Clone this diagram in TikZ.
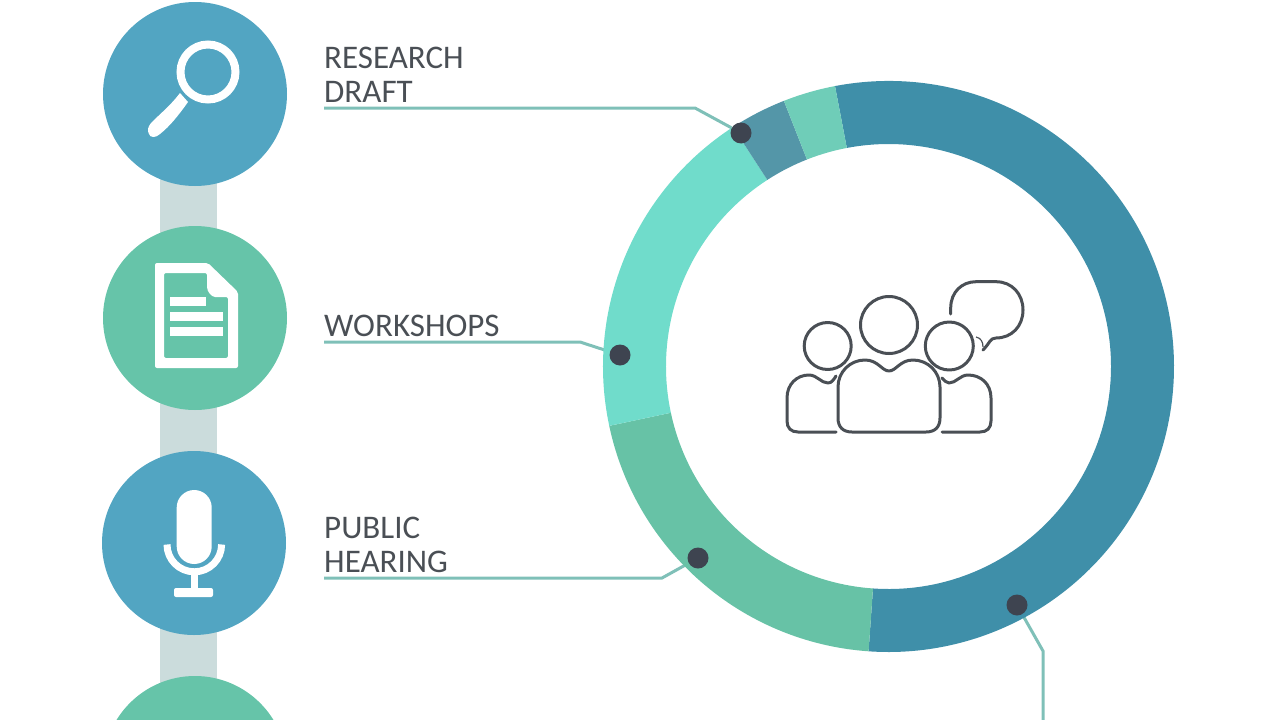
\documentclass[tikz,border=0pt]{standalone}
\usepackage{fontspec}
\setmainfont{Carlito}
\usetikzlibrary{calc,backgrounds}

\definecolor{discblue}{HTML}{52A5C2}
\definecolor{discgreen}{HTML}{66C4A9}
\definecolor{spinegray}{HTML}{CBDCDC}
\definecolor{leadline}{HTML}{7FC0B8}
\definecolor{inkgray}{HTML}{4A4F55}
\definecolor{dotgray}{HTML}{3E4450}
\definecolor{ringdark}{HTML}{3F8FA9}
\definecolor{ringmid}{HTML}{5496A8}
\definecolor{ringpale}{HTML}{6FCDB8}
\definecolor{ringaqua}{HTML}{70DCCB}
\definecolor{ringgreen}{HTML}{67C2A6}

\tikzset{
  stage/.style={circle, minimum size=184pt, inner sep=0pt},
  spine/.style={spinegray, line width=57pt},
  leader/.style={leadline, line width=3pt},
  stagelabel/.style={anchor=south west, align=left, inner xsep=0pt, inner ysep=5pt,
    text=inkgray, font=\fontsize{33}{34.3}\selectfont},
  ringdot/.style={circle, fill=dotgray, minimum size=21pt, inner sep=0pt},
  icon/.style={white, line width=8pt},
  people/.style={inkgray, line width=3pt, line cap=round, line join=round}
}

\begin{document}
\begin{tikzpicture}[x=1pt, y=-1pt]
    \clip (0,0) rectangle (1280,720);

    % The four stages down the left side
    \node[stage, fill=discblue] (disc1) at (195,94) {};
    \node[stage, fill=discgreen] (disc2) at (195,318) {};
    \node[stage, fill=discblue] (disc3) at (194,543) {};
    \node[stage, fill=discgreen] (disc4) at (195,768) {};

    % The labels
    \node[stagelabel] (lbl1) at (324,108) {RESEARCH\\DRAFT};
    \node[stagelabel] (lbl2) at (324,342) {WORKSHOPS};
    \node[stagelabel] (lbl3) at (324,578) {PUBLIC\\HEARING};

    % The ring, clockwise from the top
    \coordinate (ringc) at (888.5,366.5);
    \foreach \a/\b/\c in {100.8/-94/ringdark, -94/-168/ringgreen, -168/-237/ringaqua,
                          123/111.5/ringmid, 111.5/100.8/ringpale} {
      \fill[\c] ($(ringc)+(\a:285.5pt)$) arc[start angle=\a, end angle=\b, radius=285.5pt]
        -- ($(ringc)+(\b:222.5pt)$) arc[start angle=\b, end angle=\a, radius=222.5pt] -- cycle;
    }

    % The dots on the ring
    \node[ringdot] (dot1) at (741,133) {};
    \node[ringdot] (dot2) at (620,355) {};
    \node[ringdot] (dot3) at (698,558) {};
    \node[ringdot] (dot4) at (1017,605) {};

    % Bends and free end of the leader lines
    \coordinate (bend1) at (695,108);
    \coordinate (bend2) at (580,342);
    \coordinate (bend3) at (662,578);
    \coordinate (bend4) at (1043,651);
    \coordinate (end4) at (1043,720);

    % Everything that passes behind discs and ring
    \begin{scope}[on background layer]
      \draw[spine] ([xshift=-6.5pt]disc1.center) -- ([xshift=-6.5pt]disc2.center);
      \draw[spine] ([xshift=-6.5pt]disc2.center) -- ([xshift=-5.5pt]disc3.center);
      \draw[spine] ([xshift=-5.5pt]disc3.center) -- ([xshift=-6.5pt]disc4.center);
      \draw[leader] (lbl1.south west) -- (bend1) -- (dot1);
      \draw[leader] (lbl2.south west) -- (bend2) -- (dot2);
      \draw[leader] (lbl3.south west) -- (bend3) -- (dot3);
      \draw[leader] (dot4) -- (bend4) -- (end4);
    \end{scope}

    % Magnifier
    \draw[icon] (208,72) circle[radius=27.5pt];
    \fill[white] (180,93) -- (188,102) .. controls (178,116) and (170,126) .. (160,134)
      .. controls (156,138) and (150,138) .. (149,134)
      .. controls (147,130) and (148,127) .. (151,123) .. controls (161,113) and (171,105) .. (180,93) -- cycle;

    % Document
    \fill[white, rounded corners=2pt, even odd rule]
      (155,263) -- (208,263) -- (238,292) -- (238,368) -- (155,368) -- cycle
      (164,273) -- (207,273) -- (207,285) .. controls (207,292) and (212,297) .. (217,297)
      -- (228,297) -- (228,358) -- (164,358) -- cycle;
    \fill[white] (170,297) rectangle (206,306);
    \fill[white] (170,312) rectangle (223,321);
    \fill[white] (170,327) rectangle (223,336);

    % Microphone
    \fill[white, rounded corners=17.5pt] (176.7,490) rectangle (211.7,564);
    \draw[icon, line width=7pt] (167,544.5) arc[start angle=180, end angle=360, radius=27.3pt];
    \draw[icon, line width=7pt] (194.3,575) -- (194.3,592);
    \fill[white, rounded corners=2pt] (174,588) rectangle (213,597);

    % People and speech bubble
    \draw[people] (889,325) circle[radius=28.5pt];
    \draw[people] (827.7,346) circle[radius=23.5pt];
    \draw[people] (949.3,346) circle[radius=24pt];
    \draw[people] (838,387) .. controls (838,372) and (850,360) .. (865,360)
      .. controls (878,360) and (882,371) .. (889,371)
      .. controls (896,371) and (900,360) .. (913,360)
      .. controls (928,360) and (940,372) .. (940,387)
      -- (940,418) .. controls (940,427) and (935,432) .. (926,432)
      -- (852,432) .. controls (843,432) and (838,427) .. (838,418) -- cycle;
    \draw[people] (836,432) -- (798,432) .. controls (791,432) and (787,428) .. (787,421)
      -- (787,398) .. controls (787,384) and (797,375) .. (809,375)
      .. controls (817,375) and (821,383) .. (828,383) .. controls (832,383) and (834,379) .. (836,376);
    \draw[people] (942,432) -- (980,432) .. controls (987,432) and (991,428) .. (991,421)
      -- (991,398) .. controls (991,384) and (981,375) .. (968,375)
      .. controls (960,375) and (956,383) .. (949,383) .. controls (946,383) and (944,380) .. (942,378);
    \draw[people] (950.7,314) -- (950.7,308) .. controls (950.7,292) and (962,281.7) .. (976,281.7)
      -- (996,281.7) .. controls (1012,281.7) and (1023,294) .. (1023,310)
      .. controls (1023,326) and (1012,338) .. (996,338)
      .. controls (990,338) and (990,343) .. (983,350);
    \draw[inkgray, line width=1.2pt] (976,337) .. controls (981,338) and (983,342) .. (983,347);
\end{tikzpicture}
\end{document}
